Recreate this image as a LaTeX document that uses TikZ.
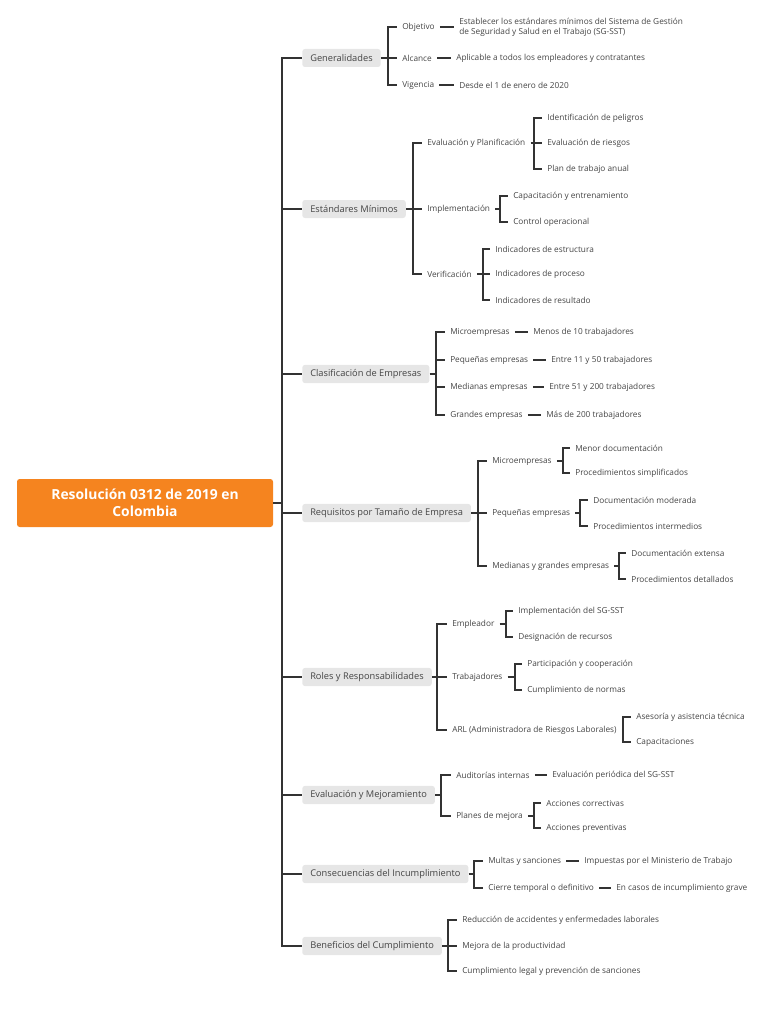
\documentclass[tikz,border=0pt]{standalone}
\usepackage{fontspec}
\setmainfont{Open Sans}
\definecolor{mainC}{HTML}{F5841F}
\definecolor{topicC}{HTML}{E6E6E6}
\definecolor{lineC}{HTML}{333333}
\definecolor{txtC}{HTML}{444444}
\begin{document}
\begin{tikzpicture}[x=0.75pt, y=-0.75pt,
        ln/.style={draw=lineC, line width=0.8pt},
        trunkln/.style={draw=lineC, line width=1.5pt},
        mainbox/.style={fill=mainC, rounded corners=2pt, minimum width=192pt, minimum height=36pt,
            text=white, align=center, font=\fontsize{10.4}{12.8}\selectfont\bfseries},
        topic/.style={anchor=west, fill=topicC, rounded corners=2pt, minimum height=13.5pt,
            inner xsep=6pt, text=txtC, font=\fontsize{6.95}{8}\selectfont},
        subitem/.style={anchor=west, inner xsep=3.75pt, inner ysep=1pt, text=txtC,
            font=\fontsize{6.2}{7.6}\selectfont}]
        \useasboundingbox (0,0) rectangle (768,1024);
        % root and trunk
        \node[mainbox] (root) at (145,503) {Resolución 0312 de 2019 en\\Colombia};
        \coordinate (trunk) at (282,503);
        \draw[trunkln] (root.east) -- (trunk);
        \foreach \n/\y/\t in {gen/58/Generalidades, est/209/Estándares Mínimos,
                cla/374/Clasificación de Empresas, req/513/Requisitos por Tamaño de Empresa,
                rol/677/Roles y Responsabilidades, eva/795/Evaluación y Mejoramiento,
                con/874/Consecuencias del Incumplimiento, ben/946/Beneficios del Cumplimiento}{
            \node[topic] (\n) at (302,\y) {\t};
            \draw[trunkln] (trunk) |- (\n.west);
        }
        % Generalidades
        \coordinate (gen-b) at (388,58);
        \draw[ln] (gen.east) -- (gen-b);
        \foreach \n/\y/\t in {obj/27/Objetivo, alc/58/Alcance, vig/85/Vigencia}{
            \node[subitem] (\n) at (397,\y) {\t};
            \draw[ln] (gen-b) |- (\n.west);
        }
        \node[subitem, align=left] (obj-l) at (454,27) {Establecer los estándares mínimos del Sistema de Gestión\\de Seguridad y Salud en el Trabajo (SG-SST)};
        \node[subitem] (alc-l) at (451,58) {Aplicable a todos los empleadores y contratantes};
        \node[subitem] (vig-l) at (454,85) {Desde el 1 de enero de 2020};
        \draw[ln] (obj) -- (obj-l);
        \draw[ln] (alc) -- (alc-l);
        \draw[ln] (vig) -- (vig-l);
        % Estandares Minimos
        \coordinate (est-b) at (413,209);
        \draw[ln] (est.east) -- (est-b);
        \foreach \n/\y/\t in {evp/143/Evaluación y Planificación, imp/209/Implementación, ver/274/Verificación}{
            \node[subitem] (\n) at (422,\y) {\t};
            \draw[ln] (est-b) |- (\n.west);
        }
        \coordinate (evp-b) at (534,143);
        \draw[ln] (evp.east) -- (evp-b);
        \foreach \n/\y/\t in {evp1/118/Identificación de peligros, evp2/143/Evaluación de riesgos, evp3/169/Plan de trabajo anual}{
            \node[subitem] (\n) at (542,\y) {\t};
            \draw[ln] (evp-b) |- (\n.west);
        }
        \coordinate (imp-b) at (500,209);
        \draw[ln] (imp.east) -- (imp-b);
        \foreach \n/\y/\t in {imp1/196/Capacitación y entrenamiento, imp2/222/Control operacional}{
            \node[subitem] (\n) at (508,\y) {\t};
            \draw[ln] (imp-b) |- (\n.west);
        }
        \coordinate (ver-b) at (483,274);
        \draw[ln] (ver.east) -- (ver-b);
        \foreach \n/\y/\t in {ver1/249/Indicadores de estructura, ver2/274/Indicadores de proceso, ver3/300/Indicadores de resultado}{
            \node[subitem] (\n) at (490,\y) {\t};
            \draw[ln] (ver-b) |- (\n.west);
        }
        % Clasificacion de Empresas
        \coordinate (cla-b) at (436,374);
        \draw[ln] (cla.east) -- (cla-b);
        \foreach \n/\y/\t/\x/\s in {cmi/332/Microempresas/528/Menos de 10 trabajadores,
                cpe/360/Pequeñas empresas/546/Entre 11 y 50 trabajadores,
                cme/387/Medianas empresas/544/Entre 51 y 200 trabajadores,
                cgr/415/Grandes empresas/541/Más de 200 trabajadores}{
            \node[subitem] (\n) at (445,\y) {\t};
            \node[subitem] (\n-l) at (\x,\y) {\s};
            \draw[ln] (cla-b) |- (\n.west);
            \draw[ln] (\n) -- (\n-l);
        }
        % Requisitos por Tamano de Empresa
        \coordinate (req-b) at (478,513);
        \draw[ln] (req.east) -- (req-b);
        \foreach \n/\y/\t in {rmi/461/Microempresas, rpe/513/Pequeñas empresas, rmg/566/Medianas y grandes empresas}{
            \node[subitem] (\n) at (487,\y) {\t};
            \draw[ln] (req-b) |- (\n.west);
        }
        \coordinate (rmi-b) at (563,461);
        \draw[ln] (rmi.east) -- (rmi-b);
        \foreach \n/\y/\t in {rmi1/448/Menor documentación, rmi2/473/Procedimientos simplificados}{
            \node[subitem] (\n) at (570,\y) {\t};
            \draw[ln] (rmi-b) |- (\n.west);
        }
        \coordinate (rpe-b) at (580,513);
        \draw[ln] (rpe.east) -- (rpe-b);
        \foreach \n/\y/\t in {rpe1/500/Documentación moderada, rpe2/526/Procedimientos intermedios}{
            \node[subitem] (\n) at (588,\y) {\t};
            \draw[ln] (rpe-b) |- (\n.west);
        }
        \coordinate (rmg-b) at (619,566);
        \draw[ln] (rmg.east) -- (rmg-b);
        \foreach \n/\y/\t in {rmg1/553/Documentación extensa, rmg2/579/Procedimientos detallados}{
            \node[subitem] (\n) at (626,\y) {\t};
            \draw[ln] (rmg-b) |- (\n.west);
        }
        % Roles y Responsabilidades
        \coordinate (rol-b) at (437,677);
        \draw[ln] (rol.east) -- (rol-b);
        \foreach \n/\y/\t in {emp/624/Empleador, tra/677/Trabajadores, arl/730/ARL (Administradora de Riesgos Laborales)}{
            \node[subitem] (\n) at (447,\y) {\t};
            \draw[ln] (rol-b) |- (\n.west);
        }
        \coordinate (emp-b) at (506,624);
        \draw[ln] (emp.east) -- (emp-b);
        \foreach \n/\y/\t in {emp1/611/Implementación del SG-SST, emp2/637/Designación de recursos}{
            \node[subitem] (\n) at (513,\y) {\t};
            \draw[ln] (emp-b) |- (\n.west);
        }
        \coordinate (tra-b) at (515,677);
        \draw[ln] (tra.east) -- (tra-b);
        \foreach \n/\y/\t in {tra1/664/Participación y cooperación, tra2/690/Cumplimiento de normas}{
            \node[subitem] (\n) at (522,\y) {\t};
            \draw[ln] (tra-b) |- (\n.west);
        }
        \coordinate (arl-b) at (623,730);
        \draw[ln] (arl.east) -- (arl-b);
        \foreach \n/\y/\t in {arl1/717/Asesoría y asistencia técnica, arl2/742/Capacitaciones}{
            \node[subitem] (\n) at (631,\y) {\t};
            \draw[ln] (arl-b) |- (\n.west);
        }
        % Evaluacion y Mejoramiento
        \coordinate (eva-b) at (441,795);
        \draw[ln] (eva.east) -- (eva-b);
        \foreach \n/\y/\t in {aud/775/Auditorías internas, pla/816/Planes de mejora}{
            \node[subitem] (\n) at (451,\y) {\t};
            \draw[ln] (eva-b) |- (\n.west);
        }
        \node[subitem] (aud-l) at (547,775) {Evaluación periódica del SG-SST};
        \draw[ln] (aud) -- (aud-l);
        \coordinate (pla-b) at (534,816);
        \draw[ln] (pla.east) -- (pla-b);
        \foreach \n/\y/\t in {pla1/803/Acciones correctivas, pla2/828/Acciones preventivas}{
            \node[subitem] (\n) at (541,\y) {\t};
            \draw[ln] (pla-b) |- (\n.west);
        }
        % Consecuencias del Incumplimiento
        \coordinate (con-b) at (474,874);
        \draw[ln] (con.east) -- (con-b);
        \foreach \n/\y/\t/\x/\s in {mul/861/Multas y sanciones/579/Impuestas por el Ministerio de Trabajo,
                cie/888/Cierre temporal o definitivo/611/En casos de incumplimiento grave}{
            \node[subitem] (\n) at (483,\y) {\t};
            \node[subitem] (\n-l) at (\x,\y) {\s};
            \draw[ln] (con-b) |- (\n.west);
            \draw[ln] (\n) -- (\n-l);
        }
        % Beneficios del Cumplimiento
        \coordinate (ben-b) at (448,946);
        \draw[ln] (ben.east) -- (ben-b);
        \foreach \n/\y/\t in {ben1/920/Reducción de accidentes y enfermedades laborales,
                ben2/946/Mejora de la productividad, ben3/971/Cumplimiento legal y prevención de sanciones}{
            \node[subitem] (\n) at (457,\y) {\t};
            \draw[ln] (ben-b) |- (\n.west);
        }
    \end{tikzpicture}
\end{document}
